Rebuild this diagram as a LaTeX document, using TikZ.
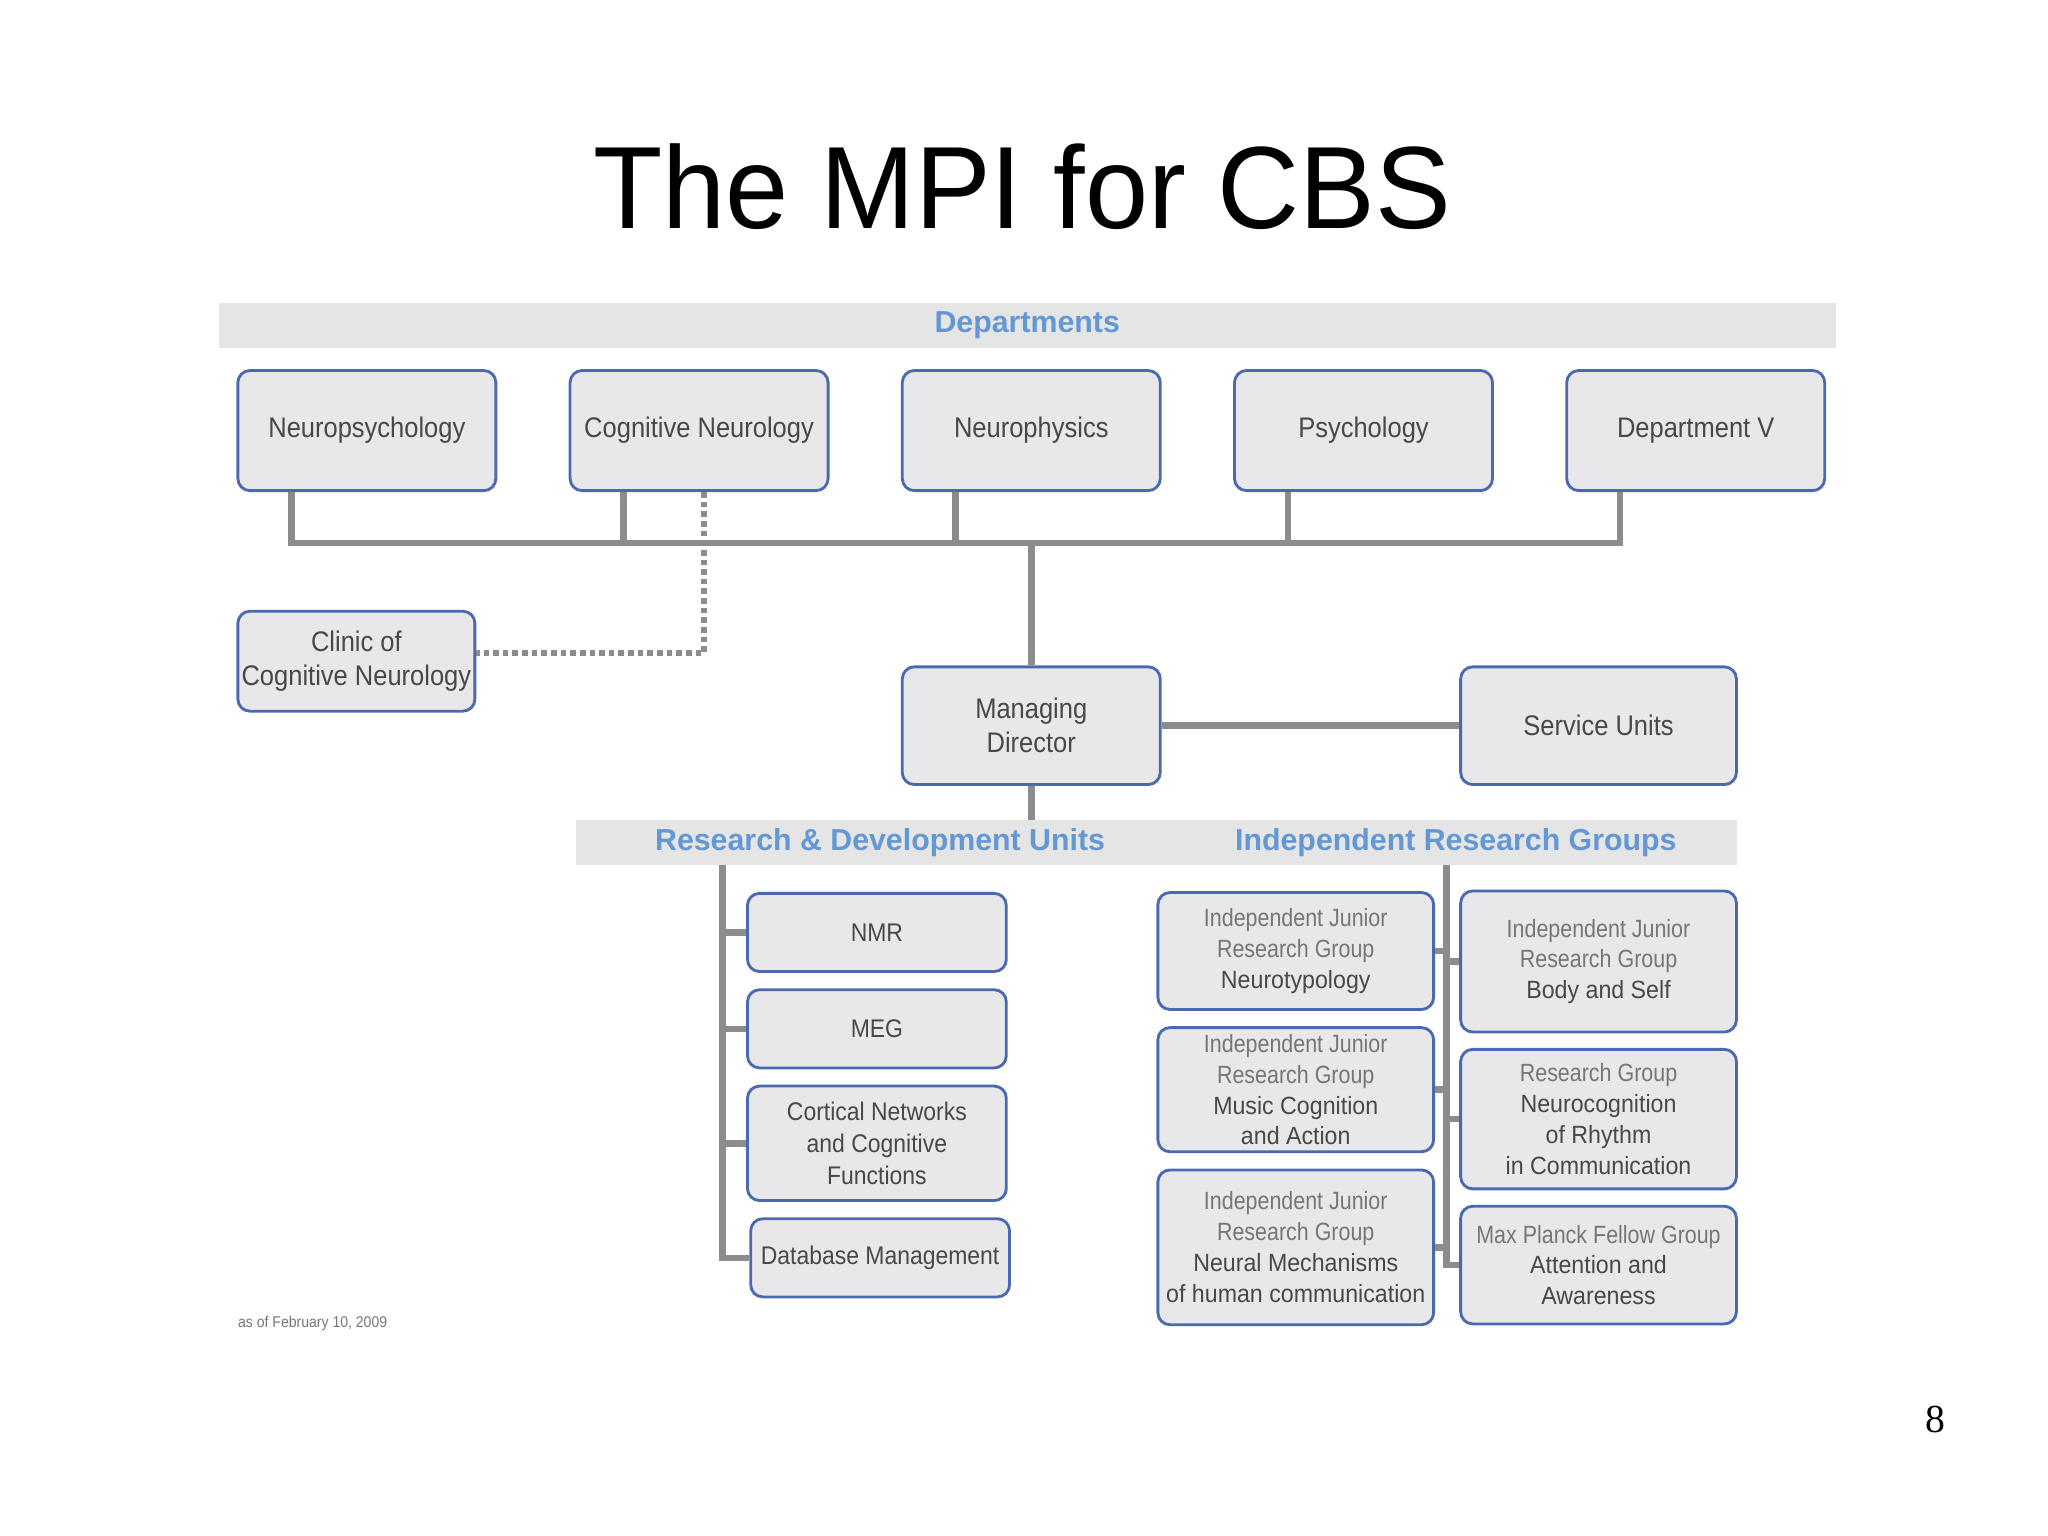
\documentclass[tikz,border=0pt]{standalone}
\usepackage{fontspec}
\setmainfont{Liberation Sans}
\newfontfamily\narrowsans[FakeStretch=0.9]{Liberation Sans}
\newfontfamily\groupsans[FakeStretch=0.93]{Liberation Sans}
\newfontfamily\lightsans[FakeStretch=0.86]{Liberation Sans}
\newfontfamily\titlesans[FakeStretch=0.97]{Liberation Sans}
\newfontfamily\slideserif{Liberation Serif}
\usepackage{xcolor}
\usepackage{tikz}
\usetikzlibrary{positioning, calc}
\definecolor{frameblue}{RGB}{75, 105, 175}
\definecolor{headerblue}{RGB}{100, 152, 212}
\definecolor{barfill}{RGB}{229, 229, 229}
\definecolor{boxfill}{RGB}{232, 232, 234}
\definecolor{linkgray}{RGB}{140, 140, 140}
\definecolor{textdark}{RGB}{72, 72, 72}
\definecolor{textlight}{RGB}{118, 118, 118}
\newcommand{\lighttext}[1]{{\lightsans\textcolor{textlight}{#1}}}

\begin{document}
\begin{tikzpicture}[node distance=0.19cm,
    dept/.style={rectangle, draw=frameblue, fill=boxfill, line width=1pt, rounded corners=0.15cm, minimum width=3.2cm, minimum height=1.49cm, align=center, inner sep=1pt, text=textdark, font=\narrowsans\fontsize{10}{12}\selectfont},
    unit/.style={dept, minimum width=3.21cm, minimum height=0.97cm, font=\narrowsans\fontsize{9}{11.3}\selectfont},
    group/.style={dept, minimum width=3.42cm, font=\groupsans\fontsize{8.8}{10.9}\selectfont},
    tier/.style={rectangle, fill=barfill, minimum height=0.55cm, inner sep=0pt, text=headerblue, font=\bfseries\fontsize{10.7}{12}\selectfont},
    link/.style={line width=2.3pt, draw=linkgray},
    dotlink/.style={line width=2pt, draw=linkgray, dash pattern=on 2pt off 1.4pt}]

    \useasboundingbox (0,0) rectangle (25.4,-19.04);

    % Title
    \node[anchor=base, font=\titlesans\fontsize{41.3}{48}\selectfont] (title) at (12.68,-2.83) {The MPI for CBS};

    % Departments
    \node[dept] (neuropsych) at (4.55,-5.34) {Neuropsychology};
    \node[dept, right=0.885cm of neuropsych] (cogneuro) {Cognitive Neurology};
    \node[dept, right=0.885cm of cogneuro] (neurophys) {Neurophysics};
    \node[dept, right=0.885cm of neurophys] (psychology) {Psychology};
    \node[dept, right=0.885cm of psychology] (deptfive) {Department V};
    \node[tier, minimum width=20.05cm, above=0.26cm of neurophys, xshift=-0.05cm] (deptbar) {Departments};

    % Clinic
    \node[dept, minimum width=2.94cm, minimum height=1.24cm, anchor=north west] (clinic) at ([yshift=-1.46cm]neuropsych.south west) {Clinic of\\Cognitive Neurology};

    % Managing Director & Service Units
    \coordinate[below=0.63cm of neurophys] (bus);
    \node[dept, minimum height=1.46cm, below=2.15cm of neurophys] (director) {Managing\\Director};
    \node[dept, minimum width=3.42cm, minimum height=1.46cm, right=3.69cm of director] (service) {Service Units};

    % Unit bars
    \node[tier, minimum width=7.55cm, anchor=north west] (rdbar) at ($(service.east |- director.south)+(-14.42,-0.42)$) {Research \& Development Units};
    \node[tier, minimum width=6.98cm, anchor=north east] (irgbar) at (rdbar.north -| service.east) {Independent Research Groups};

    % Research & Development Units
    \node[unit, below right=0.33cm and 2.12cm of rdbar.south west] (nmr) {NMR};
    \node[unit, below=of nmr] (meg) {MEG};
    \node[unit, minimum height=1.42cm, below=of meg] (cortical) {Cortical Networks\\and Cognitive\\Functions};
    \node[unit, below=of cortical, xshift=0.04cm] (database) {Database Management};

    % Independent Research Groups
    \node[group, minimum height=1.75cm, below left=0.3cm and 0cm of irgbar.south east] (bodyself) {\lighttext{Independent Junior}\\\lighttext{Research Group}\\Body and Self};
    \node[group, minimum height=1.73cm, below=0.18cm of bodyself] (rhythm) {\lighttext{Research Group}\\Neurocognition\\of Rhythm\\in Communication};
    \node[group, minimum height=1.46cm, below=0.18cm of rhythm] (fellow) {\lighttext{Max Planck Fellow Group}\\Attention and\\Awareness};
    \node[group, minimum height=1.45cm, anchor=north east] (neurotyp) at ([xshift=-0.3cm, yshift=-0.02cm]bodyself.north west) {\lighttext{Independent Junior}\\\lighttext{Research Group}\\Neurotypology};
    \node[group, minimum height=1.54cm, below=of neurotyp] (music) {\lighttext{Independent Junior}\\\lighttext{Research Group}\\Music Cognition\\and Action};
    \node[group, minimum height=1.92cm, below=of music] (neuralmech) {\lighttext{Independent Junior}\\\lighttext{Research Group}\\Neural Mechanisms\\of human communication};

    % Footer
    \node[anchor=west, text=textlight, font=\narrowsans\fontsize{5.5}{6}\selectfont] (datenote) at (2.83,-16.41) {as of February 10, 2009};
    \node[font=\slideserif\fontsize{14}{16}\selectfont] (pagenum) at (24.0,-17.61) {8};

    % Connections
    \foreach \d in {neuropsych, cogneuro, neurophys, psychology, deptfive}
        \coordinate (\d-stub) at ($(\d.south west)+(0.68,0)$);
    \draw[link] (neuropsych-stub) |- (bus) -| (deptfive-stub);
    \foreach \d in {cogneuro, neurophys, psychology}
        \draw[link] (\d-stub) -- (\d-stub |- bus);
    \draw[link] (bus) -- (director);
    \draw[link] (director) -- (service);
    \draw[link] (director) -- (director |- rdbar.north);
    \draw[dotlink] ([xshift=0.06cm]cogneuro.south) |- ([yshift=0.1cm]clinic.east);

    \coordinate (rdspine) at ($(rdbar.south west)+(1.83,0)$);
    \draw[link] (rdspine) |- (database.west);
    \foreach \u in {nmr, meg, cortical}
        \draw[link] (\u.west) -- (\u.west -| rdspine);

    \coordinate (irgspine) at ($(bodyself.west |- irgbar.south)+(-0.16,0)$);
    \draw[link] (irgspine) |- (fellow.west);
    \foreach \g in {neurotyp, music, neuralmech}
        \draw[link] (\g.east) -- (\g.east -| irgspine);
    \foreach \g in {bodyself, rhythm}
        \draw[link] (\g.west) -- (\g.west -| irgspine);
\end{tikzpicture}
\end{document}
